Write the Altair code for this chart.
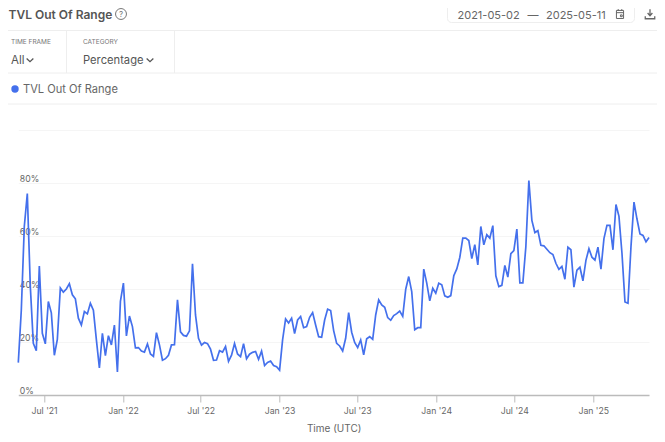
import altair as alt
import pandas as pd

START = "2021-05-02"
TVL_OUT_OF_RANGE = [
    12.2, 32, 63.6, 76, 41, 19.5, 16.7, 48.7, 23.3, 19.3, 35.3, 31, 15, 21, 40.4, 38.8, 40, 42, 37.8, 36.3,
    29, 26.4, 31.5, 30.6, 34.6, 32, 20.8, 10.2, 23.3, 14.9, 22.4, 18.9, 26.4, 8.7, 35.3, 42.2, 22.3, 29.8, 25.8, 17.8,
    17.9, 16.6, 16.2, 19.3, 15.5, 14.6, 23.5, 18.9, 13.1, 13.7, 15, 18.9, 19, 35.9, 23.8, 22.5, 22.2, 24.2, 49.5, 30.2,
    21.4, 18.8, 19.8, 19.4, 17.3, 13.1, 13.2, 16.7, 16.2, 18.3, 12.7, 15, 19.4, 15.5, 14.5, 19.4, 13.7, 15.4, 16.1, 16.4,
    13.5, 16.6, 11.1, 12.3, 12.8, 11.1, 10.7, 9.4, 20.8, 28.7, 27.2, 29, 23.2, 28.3, 29.6, 25.4, 25.8, 29.3, 31.1, 26.4,
    22, 21.8, 28.3, 32.4, 31.9, 24.3, 19.5, 18.5, 16.6, 21.4, 31.1, 23.7, 19.8, 17.9, 20.8, 15.2, 21.2, 22, 21, 30.2,
    35.9, 34, 33.1, 29.2, 28.2, 30, 30.7, 31.7, 29.7, 39.9, 44.7, 39, 24.6, 25.4, 25.4, 47.5, 42.2, 35.5, 40.3, 38.4,
    42.2, 41.6, 37.4, 36.9, 37.5, 45, 47.6, 51.9, 59.2, 59.2, 58.3, 51.5, 56.7, 49.1, 63.6, 56.7, 60.5, 59.2, 63.9, 45,
    40.9, 41.4, 48.9, 44.5, 53.3, 54.5, 62.6, 42.3, 42.3, 56, 80.9, 65.9, 61.3, 62, 56.5, 56.3, 55, 53.7, 53, 49.7,
    47.4, 48.5, 43.7, 55.8, 54.8, 40.7, 47.1, 48.2, 43.1, 50.8, 55.2, 52, 50.9, 55.8, 47.5, 59, 64, 64, 54.8, 71.9,
    67.4, 53.5, 35.1, 34.6, 56, 72.8, 66.4, 60.8, 60.2, 57.8, 59.4,
]
X_TICKS = ["2021-07-01", "2022-01-01", "2022-07-01", "2023-01-01", "2023-07-01", "2024-01-01", "2024-07-01", "2025-01-01"]
GRID_VALUES = [0, 20, 40, 60, 80, 100]

df = pd.DataFrame({
    "date": pd.date_range(START, periods=len(TVL_OUT_OF_RANGE), freq="7D"),
    "value": TVL_OUT_OF_RANGE,
})

FONT = "Inter"
BLUE = "#4470EC"
PLOT_L, PLOT_T = 18.3, 130.0   # page position of the plot origin
W, H = 630.7, 265.0
TOTAL_W, TOTAL_H = 649, 426


def px(v):
    return alt.value(v - PLOT_L)


def py(v):
    return alt.value(v - PLOT_T)


def text(s, x, y, size, color="#555555", weight=400, align="left"):
    return alt.Chart(df.head(1)).mark_text(
        text=s, font=FONT, fontSize=size, color=color, fontWeight=weight,
        align=align, baseline="alphabetic",
    ).encode(x=px(x), y=py(y))


def hline(y, x1=0, x2=665, color="#EEEEEE"):
    return alt.Chart(df.head(1)).mark_rule(color=color, strokeWidth=1).encode(
        x=px(x1), x2=px(x2), y=py(y))


def vline(x, y1, y2, color="#EEEEEE"):
    return alt.Chart(df.head(1)).mark_rule(color=color, strokeWidth=1).encode(
        x=px(x), y=py(y1), y2=py(y2))


def icon(path, x, y, size, color="#666666", width=1.3, filled=False):
    return alt.Chart(df.head(1)).mark_point(
        shape=path, size=size, stroke=color, strokeWidth=width, filled=filled,
        fill=color if filled else "transparent", opacity=1,
    ).encode(x=px(x), y=py(y))


line = alt.Chart(df).mark_line(color=BLUE, strokeWidth=1.7, interpolate="linear", clip=False).encode(
    x=alt.X(
        "date:T",
        scale=alt.Scale(type="utc", domain=["2021-05-02T00:00:00Z", "2025-05-11T00:00:00Z"]),
        title="Time (UTC)",
        axis=alt.Axis(
            values=X_TICKS, format="%b '%y", grid=False,
            domainColor="#BBBBBB", domainWidth=1.5, tickColor="#BBBBBB", tickSize=7, tickWidth=1,
            labelColor="#666666", labelFont=FONT, labelFontSize=8.7, labelPadding=4.5,
            titleColor="#666666", titleFont=FONT, titleFontSize=10, titleFontWeight=400, titlePadding=8,
            labelOverlap=False, labelFlush=False,
        ),
    ),
    y=alt.Y(
        "value:Q",
        scale=alt.Scale(domain=[0, 100]),
        title=None,
        axis=alt.Axis(
            values=GRID_VALUES, labelExpr="datum.value > 80 ? '' : datum.value + '%'",
            grid=True, gridColor="#F5F5F5", gridWidth=1, domain=False, ticks=False,
            tickSize=0, labelAlign="left", labelBaseline="bottom", labelPadding=-1,
            labelColor="#666666", labelFont=FONT, labelFontSize=8.7,
        ),
    ),
)

layers = [
    line,
    # header rules
    hline(30.5), hline(73), hline(104),
    vline(66.5, 31, 73), vline(174.5, 31, 73),
    # title row (the page margin keeps it from the very top)
    text("TVL Out Of Range", 8.5, 18.5, 12, weight=600),
    icon("M-1,0A1,1 0 1,1 1,0A1,1 0 1,1 -1,0Z", 121, 14, 120, color="#777777", width=1),
    text("?", 121, 17, 8, color="#777777", align="center"),
    # date range box
    alt.Chart(df.head(1)).mark_rect(
        fill="white", stroke="#EEEEEE", strokeWidth=1, cornerRadius=4
    ).encode(x=px(447.5), x2=px(634.5), y=py(-10), y2=py(22.5)),
    text("2021-05-02", 457.5, 18.5, 11, color="#666666"),
    text("—", 533, 18.5, 11, color="#666666", align="center"),
    text("2025-05-11", 546, 18.5, 11, color="#666666"),
    icon("M-0.8,-0.8H0.8V1H-0.8ZM-0.8,-0.3H0.8M-0.4,-1.1V-0.7M0.4,-1.1V-0.7M0.1,0.2H0.5V0.6H0.1Z", 620, 14, 80, color="#666666", width=1),
    icon("M0,-1V0.3M-0.5,-0.2L0,0.35L0.5,-0.2M-1,0.5V1H1V0.5", 650, 14, 90, color="#666666", width=1.3),
    # filter block
    text("TIME FRAME", 11, 43.5, 6.5, color="#777777"),
    text("All", 11, 64, 11.5, color="#555555"),
    icon("M-1,-0.45L0,0.5L1,-0.45", 30, 60, 45, color="#555555", width=1.3),
    text("CATEGORY", 83, 43.5, 6.5, color="#777777"),
    text("Percentage", 83, 64, 11.2, color="#555555"),
    icon("M-1,-0.45L0,0.5L1,-0.45", 150, 60, 45, color="#555555", width=1.3),
    # legend
    alt.Chart(df.head(1)).mark_circle(color=BLUE, size=55, opacity=1).encode(x=px(15), y=py(89)),
    text("TVL Out Of Range", 23, 93, 11.1, color="#666666"),
]

chart = alt.layer(*layers).properties(
    width=W, height=H,
    padding={
        "left": PLOT_L - 8, "top": PLOT_T - 8,
        "right": TOTAL_W - (PLOT_L - 8) - W, "bottom": TOTAL_H - (PLOT_T - 8) - H,
    },
    autosize=alt.AutoSizeParams(type="none"),
    background="white",
).configure_view(stroke=None)

chart.save("out.html", embed_options={"renderer": "svg", "actions": False})
